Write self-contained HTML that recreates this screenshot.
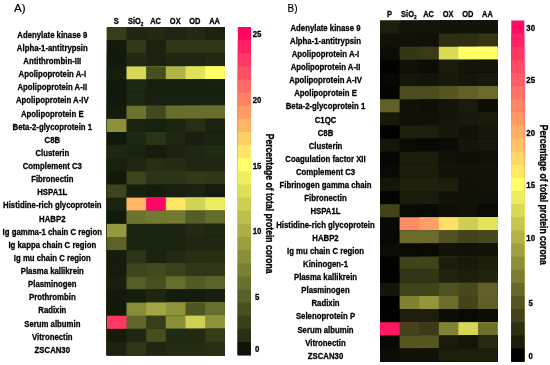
<!DOCTYPE html>
<html><head><meta charset="utf-8"><title>Protein corona heatmaps</title>
<style>
html,body{margin:0;padding:0;background:#fff;}
svg{display:block;font-family:"Liberation Sans",Arial,sans-serif;fill:#000;}
text.b{stroke:#000;stroke-width:0.3px;stroke-linejoin:round;}
text.t{stroke:#000;stroke-width:0.3px;}
</style></head><body>
<svg width="550" height="365" viewBox="0 0 550 365">
<rect width="550" height="365" fill="#ffffff"/>
<rect x="106.8" y="27" width="118.00000000000001" height="328.1" fill="#212b12"/>
<rect x="106.80" y="27.00" width="118.00" height="328.10" fill="#343e19"/>
<rect x="126.47" y="27.00" width="98.33" height="328.10" fill="#1d2711"/>
<rect x="146.13" y="27.00" width="78.67" height="328.10" fill="#212a12"/>
<rect x="165.80" y="27.00" width="59.00" height="328.10" fill="#1d2711"/>
<rect x="185.47" y="27.00" width="39.33" height="328.10" fill="#212a12"/>
<rect x="205.13" y="27.00" width="19.67" height="328.10" fill="#1a230f"/>
<text class="b" transform="translate(52.30,37.86) scale(0.82,1)" font-size="9.5" text-anchor="middle" font-weight="bold">Adenylate kinase 9</text>
<rect x="106.80" y="40.12" width="118.00" height="314.98" fill="#121a0c"/>
<rect x="126.47" y="40.12" width="98.33" height="314.98" fill="#303a18"/>
<rect x="146.13" y="40.12" width="78.67" height="314.98" fill="#1a230f"/>
<rect x="165.80" y="40.12" width="59.00" height="314.98" fill="#2e3717"/>
<rect x="185.47" y="40.12" width="39.33" height="314.98" fill="#2e3717"/>
<rect x="205.13" y="40.12" width="19.67" height="314.98" fill="#2e3717"/>
<text class="b" transform="translate(52.30,50.99) scale(0.82,1)" font-size="9.5" text-anchor="middle" font-weight="bold">Alpha-1-antitrypsin</text>
<rect x="106.80" y="53.25" width="118.00" height="301.85" fill="#121a0c"/>
<rect x="126.47" y="53.25" width="98.33" height="301.85" fill="#212a12"/>
<rect x="146.13" y="53.25" width="78.67" height="301.85" fill="#1a230f"/>
<rect x="165.80" y="53.25" width="59.00" height="301.85" fill="#1d2711"/>
<rect x="185.47" y="53.25" width="39.33" height="301.85" fill="#1d2711"/>
<rect x="205.13" y="53.25" width="19.67" height="301.85" fill="#212a12"/>
<text class="b" transform="translate(52.30,64.11) scale(0.82,1)" font-size="9.5" text-anchor="middle" font-weight="bold">Antithrombin-III</text>
<rect x="106.80" y="66.37" width="118.00" height="288.73" fill="#151e0d"/>
<rect x="126.47" y="66.37" width="98.33" height="288.73" fill="#d5d756"/>
<rect x="146.13" y="66.37" width="78.67" height="288.73" fill="#474f20"/>
<rect x="165.80" y="66.37" width="59.00" height="288.73" fill="#b0b448"/>
<rect x="185.47" y="66.37" width="39.33" height="288.73" fill="#e0e25a"/>
<rect x="205.13" y="66.37" width="19.67" height="288.73" fill="#ffff66"/>
<text class="b" transform="translate(52.30,77.23) scale(0.82,1)" font-size="9.5" text-anchor="middle" font-weight="bold">Apolipoprotein A-I</text>
<rect x="106.80" y="79.50" width="118.00" height="275.60" fill="#10190b"/>
<rect x="126.47" y="79.50" width="98.33" height="275.60" fill="#1d2711"/>
<rect x="146.13" y="79.50" width="78.67" height="275.60" fill="#17200e"/>
<rect x="165.80" y="79.50" width="59.00" height="275.60" fill="#17200e"/>
<rect x="185.47" y="79.50" width="39.33" height="275.60" fill="#17200e"/>
<rect x="205.13" y="79.50" width="19.67" height="275.60" fill="#17200e"/>
<text class="b" transform="translate(52.30,90.36) scale(0.82,1)" font-size="9.5" text-anchor="middle" font-weight="bold">Apolipoprotein A-II</text>
<rect x="106.80" y="92.62" width="118.00" height="262.48" fill="#10190b"/>
<rect x="126.47" y="92.62" width="98.33" height="262.48" fill="#1d2711"/>
<rect x="146.13" y="92.62" width="78.67" height="262.48" fill="#18210f"/>
<rect x="165.80" y="92.62" width="59.00" height="262.48" fill="#18210f"/>
<rect x="185.47" y="92.62" width="39.33" height="262.48" fill="#18210f"/>
<rect x="205.13" y="92.62" width="19.67" height="262.48" fill="#18210f"/>
<text class="b" transform="translate(52.30,103.48) scale(0.82,1)" font-size="9.5" text-anchor="middle" font-weight="bold">Apolipoprotein A-IV</text>
<rect x="106.80" y="105.74" width="118.00" height="249.36" fill="#141c0d"/>
<rect x="126.47" y="105.74" width="98.33" height="249.36" fill="#6c732e"/>
<rect x="146.13" y="105.74" width="78.67" height="249.36" fill="#41491e"/>
<rect x="165.80" y="105.74" width="59.00" height="249.36" fill="#686f2d"/>
<rect x="185.47" y="105.74" width="39.33" height="249.36" fill="#686f2d"/>
<rect x="205.13" y="105.74" width="19.67" height="249.36" fill="#686f2d"/>
<text class="b" transform="translate(52.30,116.61) scale(0.82,1)" font-size="9.5" text-anchor="middle" font-weight="bold">Apolipoprotein E</text>
<rect x="106.80" y="118.87" width="118.00" height="236.23" fill="#8c913a"/>
<rect x="126.47" y="118.87" width="98.33" height="236.23" fill="#1a230f"/>
<rect x="146.13" y="118.87" width="78.67" height="236.23" fill="#18210f"/>
<rect x="165.80" y="118.87" width="59.00" height="236.23" fill="#1c2510"/>
<rect x="185.47" y="118.87" width="39.33" height="236.23" fill="#262f14"/>
<rect x="205.13" y="118.87" width="19.67" height="236.23" fill="#1a230f"/>
<text class="b" transform="translate(52.30,129.73) scale(0.82,1)" font-size="9.5" text-anchor="middle" font-weight="bold">Beta-2-glycoprotein 1</text>
<rect x="106.80" y="131.99" width="118.00" height="223.11" fill="#10190b"/>
<rect x="126.47" y="131.99" width="98.33" height="223.11" fill="#1d2711"/>
<rect x="146.13" y="131.99" width="78.67" height="223.11" fill="#2a3416"/>
<rect x="165.80" y="131.99" width="59.00" height="223.11" fill="#1d2711"/>
<rect x="185.47" y="131.99" width="39.33" height="223.11" fill="#17200e"/>
<rect x="205.13" y="131.99" width="19.67" height="223.11" fill="#1a230f"/>
<text class="b" transform="translate(52.30,142.85) scale(0.82,1)" font-size="9.5" text-anchor="middle" font-weight="bold">C8B</text>
<rect x="106.80" y="145.12" width="118.00" height="209.98" fill="#1d2711"/>
<rect x="126.47" y="145.12" width="98.33" height="209.98" fill="#1a230f"/>
<rect x="146.13" y="145.12" width="78.67" height="209.98" fill="#151e0d"/>
<rect x="165.80" y="145.12" width="59.00" height="209.98" fill="#1a230f"/>
<rect x="185.47" y="145.12" width="39.33" height="209.98" fill="#1d2711"/>
<rect x="205.13" y="145.12" width="19.67" height="209.98" fill="#212a12"/>
<text class="b" transform="translate(52.30,155.98) scale(0.82,1)" font-size="9.5" text-anchor="middle" font-weight="bold">Clusterin</text>
<rect x="106.80" y="158.24" width="118.00" height="196.86" fill="#18210f"/>
<rect x="126.47" y="158.24" width="98.33" height="196.86" fill="#1d2711"/>
<rect x="146.13" y="158.24" width="78.67" height="196.86" fill="#262f14"/>
<rect x="165.80" y="158.24" width="59.00" height="196.86" fill="#222c12"/>
<rect x="185.47" y="158.24" width="39.33" height="196.86" fill="#1d2711"/>
<rect x="205.13" y="158.24" width="19.67" height="196.86" fill="#1d2711"/>
<text class="b" transform="translate(52.30,169.10) scale(0.82,1)" font-size="9.5" text-anchor="middle" font-weight="bold">Complement C3</text>
<rect x="106.80" y="171.36" width="118.00" height="183.74" fill="#121a0c"/>
<rect x="126.47" y="171.36" width="98.33" height="183.74" fill="#3d451d"/>
<rect x="146.13" y="171.36" width="78.67" height="183.74" fill="#2a3416"/>
<rect x="165.80" y="171.36" width="59.00" height="183.74" fill="#2a3416"/>
<rect x="185.47" y="171.36" width="39.33" height="183.74" fill="#303a18"/>
<rect x="205.13" y="171.36" width="19.67" height="183.74" fill="#2e3717"/>
<text class="b" transform="translate(52.30,182.23) scale(0.82,1)" font-size="9.5" text-anchor="middle" font-weight="bold">Fibronectin</text>
<rect x="106.80" y="184.49" width="118.00" height="170.61" fill="#3d451d"/>
<rect x="126.47" y="184.49" width="98.33" height="170.61" fill="#17200e"/>
<rect x="146.13" y="184.49" width="78.67" height="170.61" fill="#151e0d"/>
<rect x="165.80" y="184.49" width="59.00" height="170.61" fill="#18210f"/>
<rect x="185.47" y="184.49" width="39.33" height="170.61" fill="#1a230f"/>
<rect x="205.13" y="184.49" width="19.67" height="170.61" fill="#141c0d"/>
<text class="b" transform="translate(52.30,195.35) scale(0.82,1)" font-size="9.5" text-anchor="middle" font-weight="bold">HSPA1L</text>
<rect x="106.80" y="197.61" width="118.00" height="157.49" fill="#1a230f"/>
<rect x="126.47" y="197.61" width="98.33" height="157.49" fill="#ffb765"/>
<rect x="146.13" y="197.61" width="78.67" height="157.49" fill="#ff0664"/>
<rect x="165.80" y="197.61" width="59.00" height="157.49" fill="#ffe666"/>
<rect x="185.47" y="197.61" width="39.33" height="157.49" fill="#d0d354"/>
<rect x="205.13" y="197.61" width="19.67" height="157.49" fill="#ebec5e"/>
<text class="b" transform="translate(52.30,208.47) scale(0.82,1)" font-size="9.5" text-anchor="middle" font-weight="bold">Histidine-rich glycoprotein</text>
<rect x="106.80" y="210.74" width="118.00" height="144.36" fill="#121a0c"/>
<rect x="126.47" y="210.74" width="98.33" height="144.36" fill="#6c732e"/>
<rect x="146.13" y="210.74" width="78.67" height="144.36" fill="#737931"/>
<rect x="165.80" y="210.74" width="59.00" height="144.36" fill="#737931"/>
<rect x="185.47" y="210.74" width="39.33" height="144.36" fill="#555d26"/>
<rect x="205.13" y="210.74" width="19.67" height="144.36" fill="#656d2c"/>
<text class="b" transform="translate(52.30,221.60) scale(0.82,1)" font-size="9.5" text-anchor="middle" font-weight="bold">HABP2</text>
<rect x="106.80" y="223.86" width="118.00" height="131.24" fill="#94993e"/>
<rect x="126.47" y="223.86" width="98.33" height="131.24" fill="#1a230f"/>
<rect x="146.13" y="223.86" width="78.67" height="131.24" fill="#1a230f"/>
<rect x="165.80" y="223.86" width="59.00" height="131.24" fill="#1a230f"/>
<rect x="185.47" y="223.86" width="39.33" height="131.24" fill="#212a12"/>
<rect x="205.13" y="223.86" width="19.67" height="131.24" fill="#1d2711"/>
<text class="b" transform="translate(52.30,234.72) scale(0.82,1)" font-size="9.5" text-anchor="middle" font-weight="bold">Ig gamma-1 chain C region</text>
<rect x="106.80" y="236.98" width="118.00" height="118.12" fill="#5b6328"/>
<rect x="126.47" y="236.98" width="98.33" height="118.12" fill="#1a230f"/>
<rect x="146.13" y="236.98" width="78.67" height="118.12" fill="#1a230f"/>
<rect x="165.80" y="236.98" width="59.00" height="118.12" fill="#1a230f"/>
<rect x="185.47" y="236.98" width="39.33" height="118.12" fill="#1d2711"/>
<rect x="205.13" y="236.98" width="19.67" height="118.12" fill="#1d2711"/>
<text class="b" transform="translate(52.30,247.85) scale(0.82,1)" font-size="9.5" text-anchor="middle" font-weight="bold">Ig kappa chain C region</text>
<rect x="106.80" y="250.11" width="118.00" height="104.99" fill="#141c0d"/>
<rect x="126.47" y="250.11" width="98.33" height="104.99" fill="#2a3416"/>
<rect x="146.13" y="250.11" width="78.67" height="104.99" fill="#1a230f"/>
<rect x="165.80" y="250.11" width="59.00" height="104.99" fill="#212a12"/>
<rect x="185.47" y="250.11" width="39.33" height="104.99" fill="#262f14"/>
<rect x="205.13" y="250.11" width="19.67" height="104.99" fill="#262f14"/>
<text class="b" transform="translate(52.30,260.97) scale(0.82,1)" font-size="9.5" text-anchor="middle" font-weight="bold">Ig mu chain C region</text>
<rect x="106.80" y="263.23" width="118.00" height="91.87" fill="#141c0d"/>
<rect x="126.47" y="263.23" width="98.33" height="91.87" fill="#3d451d"/>
<rect x="146.13" y="263.23" width="78.67" height="91.87" fill="#41491e"/>
<rect x="165.80" y="263.23" width="59.00" height="91.87" fill="#39421b"/>
<rect x="185.47" y="263.23" width="39.33" height="91.87" fill="#2e3717"/>
<rect x="205.13" y="263.23" width="19.67" height="91.87" fill="#2e3717"/>
<text class="b" transform="translate(52.30,274.09) scale(0.82,1)" font-size="9.5" text-anchor="middle" font-weight="bold">Plasma kallikrein</text>
<rect x="106.80" y="276.36" width="118.00" height="78.74" fill="#17200e"/>
<rect x="126.47" y="276.36" width="98.33" height="78.74" fill="#555d26"/>
<rect x="146.13" y="276.36" width="78.67" height="78.74" fill="#474f20"/>
<rect x="165.80" y="276.36" width="59.00" height="78.74" fill="#656d2c"/>
<rect x="185.47" y="276.36" width="39.33" height="78.74" fill="#515924"/>
<rect x="205.13" y="276.36" width="19.67" height="78.74" fill="#5b6328"/>
<text class="b" transform="translate(52.30,287.22) scale(0.82,1)" font-size="9.5" text-anchor="middle" font-weight="bold">Plasminogen</text>
<rect x="106.80" y="289.48" width="118.00" height="65.62" fill="#121a0c"/>
<rect x="126.47" y="289.48" width="98.33" height="65.62" fill="#151e0d"/>
<rect x="146.13" y="289.48" width="78.67" height="65.62" fill="#1d2711"/>
<rect x="165.80" y="289.48" width="59.00" height="65.62" fill="#151e0d"/>
<rect x="185.47" y="289.48" width="39.33" height="65.62" fill="#141c0d"/>
<rect x="205.13" y="289.48" width="19.67" height="65.62" fill="#17200e"/>
<text class="b" transform="translate(52.30,300.34) scale(0.82,1)" font-size="9.5" text-anchor="middle" font-weight="bold">Prothrombin</text>
<rect x="106.80" y="302.60" width="118.00" height="52.50" fill="#121a0c"/>
<rect x="126.47" y="302.60" width="98.33" height="52.50" fill="#878c39"/>
<rect x="146.13" y="302.60" width="78.67" height="52.50" fill="#a3a743"/>
<rect x="165.80" y="302.60" width="59.00" height="52.50" fill="#8f943c"/>
<rect x="185.47" y="302.60" width="39.33" height="52.50" fill="#4d5523"/>
<rect x="205.13" y="302.60" width="19.67" height="52.50" fill="#686f2d"/>
<text class="b" transform="translate(52.30,313.47) scale(0.82,1)" font-size="9.5" text-anchor="middle" font-weight="bold">Radixin</text>
<rect x="106.80" y="315.73" width="118.00" height="39.37" fill="#ff3764"/>
<rect x="126.47" y="315.73" width="98.33" height="39.37" fill="#5f672a"/>
<rect x="146.13" y="315.73" width="78.67" height="39.37" fill="#363f1a"/>
<rect x="165.80" y="315.73" width="59.00" height="39.37" fill="#8a903a"/>
<rect x="185.47" y="315.73" width="39.33" height="39.37" fill="#cfd154"/>
<rect x="205.13" y="315.73" width="19.67" height="39.37" fill="#8d933b"/>
<text class="b" transform="translate(52.30,326.59) scale(0.82,1)" font-size="9.5" text-anchor="middle" font-weight="bold">Serum albumin</text>
<rect x="106.80" y="328.85" width="118.00" height="26.25" fill="#141c0d"/>
<rect x="126.47" y="328.85" width="98.33" height="26.25" fill="#1d2711"/>
<rect x="146.13" y="328.85" width="78.67" height="26.25" fill="#474f20"/>
<rect x="165.80" y="328.85" width="59.00" height="26.25" fill="#212a12"/>
<rect x="185.47" y="328.85" width="39.33" height="26.25" fill="#212a12"/>
<rect x="205.13" y="328.85" width="19.67" height="26.25" fill="#343e19"/>
<text class="b" transform="translate(52.30,339.71) scale(0.82,1)" font-size="9.5" text-anchor="middle" font-weight="bold">Vitronectin</text>
<rect x="106.80" y="341.98" width="118.00" height="13.12" fill="#1a230f"/>
<rect x="126.47" y="341.98" width="98.33" height="13.12" fill="#2e3717"/>
<rect x="146.13" y="341.98" width="78.67" height="13.12" fill="#1d2711"/>
<rect x="165.80" y="341.98" width="59.00" height="13.12" fill="#222c12"/>
<rect x="185.47" y="341.98" width="39.33" height="13.12" fill="#222c12"/>
<rect x="205.13" y="341.98" width="19.67" height="13.12" fill="#262f14"/>
<text class="b" transform="translate(52.30,352.84) scale(0.82,1)" font-size="9.5" text-anchor="middle" font-weight="bold">ZSCAN30</text>
<rect x="237.8" y="27.00" width="13.20" height="328.10" fill="#ff0664"/>
<rect x="237.8" y="40.12" width="13.20" height="314.98" fill="#ff1f64"/>
<rect x="237.8" y="53.25" width="13.20" height="301.85" fill="#ff3864"/>
<rect x="237.8" y="66.37" width="13.20" height="288.73" fill="#ff5165"/>
<rect x="237.8" y="79.50" width="13.20" height="275.60" fill="#ff6a65"/>
<rect x="237.8" y="92.62" width="13.20" height="262.48" fill="#ff8265"/>
<rect x="237.8" y="105.74" width="13.20" height="249.36" fill="#ff9b65"/>
<rect x="237.8" y="118.87" width="13.20" height="236.23" fill="#ffb465"/>
<rect x="237.8" y="131.99" width="13.20" height="223.11" fill="#ffcd66"/>
<rect x="237.8" y="145.12" width="13.20" height="209.98" fill="#ffe666"/>
<rect x="237.8" y="158.24" width="13.20" height="196.86" fill="#ffff66"/>
<rect x="237.8" y="171.36" width="13.20" height="183.74" fill="#eeef60"/>
<rect x="237.8" y="184.49" width="13.20" height="170.61" fill="#dedf59"/>
<rect x="237.8" y="197.61" width="13.20" height="157.49" fill="#cdcf53"/>
<rect x="237.8" y="210.74" width="13.20" height="144.36" fill="#bcbf4d"/>
<rect x="237.8" y="223.86" width="13.20" height="131.24" fill="#acaf46"/>
<rect x="237.8" y="236.98" width="13.20" height="118.12" fill="#9b9f40"/>
<rect x="237.8" y="250.11" width="13.20" height="104.99" fill="#8a903a"/>
<rect x="237.8" y="263.23" width="13.20" height="91.87" fill="#798034"/>
<rect x="237.8" y="276.36" width="13.20" height="78.74" fill="#69702d"/>
<rect x="237.8" y="289.48" width="13.20" height="65.62" fill="#586027"/>
<rect x="237.8" y="302.60" width="13.20" height="52.50" fill="#475021"/>
<rect x="237.8" y="315.73" width="13.20" height="39.37" fill="#37401a"/>
<rect x="237.8" y="328.85" width="13.20" height="26.25" fill="#263014"/>
<rect x="237.8" y="341.98" width="13.20" height="13.12" fill="#0d150a"/>
<text class="b" transform="translate(116.23,23.90) scale(0.83,1)" font-size="9" text-anchor="middle" font-weight="bold">S</text>
<text class="b" transform="translate(135.70,23.9) scale(0.83,1)" font-size="9" text-anchor="middle" font-weight="bold">SiO<tspan font-size="5.6" dy="2">2</tspan></text>
<text class="b" transform="translate(155.57,23.90) scale(0.83,1)" font-size="9" text-anchor="middle" font-weight="bold">AC</text>
<text class="b" transform="translate(175.23,23.90) scale(0.83,1)" font-size="9" text-anchor="middle" font-weight="bold">OX</text>
<text class="b" transform="translate(194.90,23.90) scale(0.83,1)" font-size="9" text-anchor="middle" font-weight="bold">OD</text>
<text class="b" transform="translate(214.57,23.90) scale(0.83,1)" font-size="9" text-anchor="middle" font-weight="bold">AA</text>
<text class="t" transform="translate(257.10,37.45) scale(0.87,1)" font-size="9" text-anchor="middle" font-weight="bold">25</text>
<text class="t" transform="translate(257.10,102.80) scale(0.87,1)" font-size="9" text-anchor="middle" font-weight="bold">20</text>
<text class="t" transform="translate(257.10,168.55) scale(0.87,1)" font-size="9" text-anchor="middle" font-weight="bold">15</text>
<text class="t" transform="translate(257.10,233.65) scale(0.87,1)" font-size="9" text-anchor="middle" font-weight="bold">10</text>
<text class="t" transform="translate(257.10,299.55) scale(0.87,1)" font-size="9" text-anchor="middle" font-weight="bold">5</text>
<text class="t" transform="translate(257.10,351.80) scale(0.87,1)" font-size="9" text-anchor="middle" font-weight="bold">0</text>
<text class="b" transform="translate(266.10,133.70) rotate(90) scale(0.828,1)" font-size="10.4" text-anchor="start" font-weight="bold">Percentage of total protein corona</text>
<text transform="translate(14,11.8) scale(1.05,1)" font-size="11" font-weight="normal" stroke="#000" stroke-width="0.2">A)</text>
<rect x="380" y="20.5" width="117.60000000000002" height="341.1" fill="#16160a"/>
<rect x="380.00" y="20.50" width="117.60" height="341.10" fill="#1e1e0d"/>
<rect x="399.60" y="20.50" width="98.00" height="341.10" fill="#151509"/>
<rect x="419.20" y="20.50" width="78.40" height="341.10" fill="#151509"/>
<rect x="438.80" y="20.50" width="58.80" height="341.10" fill="#131308"/>
<rect x="458.40" y="20.50" width="39.20" height="341.10" fill="#131308"/>
<rect x="478.00" y="20.50" width="19.60" height="341.10" fill="#131308"/>
<text class="b" transform="translate(325.50,30.76) scale(0.82,1)" font-size="9.5" text-anchor="middle" font-weight="bold">Adenylate kinase 9</text>
<rect x="380.00" y="33.62" width="117.60" height="327.98" fill="#111107"/>
<rect x="399.60" y="33.62" width="98.00" height="327.98" fill="#111107"/>
<rect x="419.20" y="33.62" width="78.40" height="327.98" fill="#111107"/>
<rect x="438.80" y="33.62" width="58.80" height="327.98" fill="#2f2f14"/>
<rect x="458.40" y="33.62" width="39.20" height="327.98" fill="#2f2f14"/>
<rect x="478.00" y="33.62" width="19.60" height="327.98" fill="#353516"/>
<text class="b" transform="translate(325.50,43.88) scale(0.82,1)" font-size="9.5" text-anchor="middle" font-weight="bold">Alpha-1-antitrypsin</text>
<rect x="380.00" y="46.74" width="117.60" height="314.86" fill="#0d0d05"/>
<rect x="399.60" y="46.74" width="98.00" height="314.86" fill="#363616"/>
<rect x="419.20" y="46.74" width="78.40" height="314.86" fill="#3a3a18"/>
<rect x="438.80" y="46.74" width="58.80" height="314.86" fill="#dada57"/>
<rect x="458.40" y="46.74" width="39.20" height="314.86" fill="#ffff66"/>
<rect x="478.00" y="46.74" width="19.60" height="314.86" fill="#ffff66"/>
<text class="b" transform="translate(325.50,57.00) scale(0.82,1)" font-size="9.5" text-anchor="middle" font-weight="bold">Apolipoprotein A-I</text>
<rect x="380.00" y="59.86" width="117.60" height="301.74" fill="#020201"/>
<rect x="399.60" y="59.86" width="98.00" height="301.74" fill="#111107"/>
<rect x="419.20" y="59.86" width="78.40" height="301.74" fill="#0d0d05"/>
<rect x="438.80" y="59.86" width="58.80" height="301.74" fill="#1b1b0c"/>
<rect x="458.40" y="59.86" width="39.20" height="301.74" fill="#151509"/>
<rect x="478.00" y="59.86" width="19.60" height="301.74" fill="#151509"/>
<text class="b" transform="translate(325.50,70.12) scale(0.82,1)" font-size="9.5" text-anchor="middle" font-weight="bold">Apolipoprotein A-II</text>
<rect x="380.00" y="72.98" width="117.60" height="288.62" fill="#060603"/>
<rect x="399.60" y="72.98" width="98.00" height="288.62" fill="#151509"/>
<rect x="419.20" y="72.98" width="78.40" height="288.62" fill="#131308"/>
<rect x="438.80" y="72.98" width="58.80" height="288.62" fill="#19190b"/>
<rect x="458.40" y="72.98" width="39.20" height="288.62" fill="#151509"/>
<rect x="478.00" y="72.98" width="19.60" height="288.62" fill="#19190b"/>
<text class="b" transform="translate(325.50,83.24) scale(0.82,1)" font-size="9.5" text-anchor="middle" font-weight="bold">Apolipoprotein A-IV</text>
<rect x="380.00" y="86.10" width="117.60" height="275.50" fill="#040402"/>
<rect x="399.60" y="86.10" width="98.00" height="275.50" fill="#4c4c1f"/>
<rect x="419.20" y="86.10" width="78.40" height="275.50" fill="#4c4c1f"/>
<rect x="438.80" y="86.10" width="58.80" height="275.50" fill="#565623"/>
<rect x="458.40" y="86.10" width="39.20" height="275.50" fill="#606027"/>
<rect x="478.00" y="86.10" width="19.60" height="275.50" fill="#6a6a2b"/>
<text class="b" transform="translate(325.50,96.36) scale(0.82,1)" font-size="9.5" text-anchor="middle" font-weight="bold">Apolipoprotein E</text>
<rect x="380.00" y="99.22" width="117.60" height="262.38" fill="#606027"/>
<rect x="399.60" y="99.22" width="98.00" height="262.38" fill="#111107"/>
<rect x="419.20" y="99.22" width="78.40" height="262.38" fill="#0f0f06"/>
<rect x="438.80" y="99.22" width="58.80" height="262.38" fill="#151509"/>
<rect x="458.40" y="99.22" width="39.20" height="262.38" fill="#1b1b0c"/>
<rect x="478.00" y="99.22" width="19.60" height="262.38" fill="#0d0d05"/>
<text class="b" transform="translate(325.50,109.48) scale(0.82,1)" font-size="9.5" text-anchor="middle" font-weight="bold">Beta-2-glycoprotein 1</text>
<rect x="380.00" y="112.33" width="117.60" height="249.27" fill="#19190b"/>
<rect x="399.60" y="112.33" width="98.00" height="249.27" fill="#111107"/>
<rect x="419.20" y="112.33" width="78.40" height="249.27" fill="#111107"/>
<rect x="438.80" y="112.33" width="58.80" height="249.27" fill="#151509"/>
<rect x="458.40" y="112.33" width="39.20" height="249.27" fill="#19190b"/>
<rect x="478.00" y="112.33" width="19.60" height="249.27" fill="#1b1b0c"/>
<text class="b" transform="translate(325.50,122.59) scale(0.82,1)" font-size="9.5" text-anchor="middle" font-weight="bold">C1QC</text>
<rect x="380.00" y="125.45" width="117.60" height="236.15" fill="#020201"/>
<rect x="399.60" y="125.45" width="98.00" height="236.15" fill="#1e1e0d"/>
<rect x="419.20" y="125.45" width="78.40" height="236.15" fill="#1e1e0d"/>
<rect x="438.80" y="125.45" width="58.80" height="236.15" fill="#17170a"/>
<rect x="458.40" y="125.45" width="39.20" height="236.15" fill="#111107"/>
<rect x="478.00" y="125.45" width="19.60" height="236.15" fill="#17170a"/>
<text class="b" transform="translate(325.50,135.71) scale(0.82,1)" font-size="9.5" text-anchor="middle" font-weight="bold">C8B</text>
<rect x="380.00" y="138.57" width="117.60" height="223.03" fill="#151509"/>
<rect x="399.60" y="138.57" width="98.00" height="223.03" fill="#0a0a04"/>
<rect x="419.20" y="138.57" width="78.40" height="223.03" fill="#080804"/>
<rect x="438.80" y="138.57" width="58.80" height="223.03" fill="#0d0d05"/>
<rect x="458.40" y="138.57" width="39.20" height="223.03" fill="#151509"/>
<rect x="478.00" y="138.57" width="19.60" height="223.03" fill="#17170a"/>
<text class="b" transform="translate(325.50,148.83) scale(0.82,1)" font-size="9.5" text-anchor="middle" font-weight="bold">Clusterin</text>
<rect x="380.00" y="151.69" width="117.60" height="209.91" fill="#060603"/>
<rect x="399.60" y="151.69" width="98.00" height="209.91" fill="#1d1d0c"/>
<rect x="419.20" y="151.69" width="78.40" height="209.91" fill="#1d1d0c"/>
<rect x="438.80" y="151.69" width="58.80" height="209.91" fill="#111107"/>
<rect x="458.40" y="151.69" width="39.20" height="209.91" fill="#0f0f06"/>
<rect x="478.00" y="151.69" width="19.60" height="209.91" fill="#111107"/>
<text class="b" transform="translate(325.50,161.95) scale(0.82,1)" font-size="9.5" text-anchor="middle" font-weight="bold">Coagulation factor XII</text>
<rect x="380.00" y="164.81" width="117.60" height="196.79" fill="#0a0a04"/>
<rect x="399.60" y="164.81" width="98.00" height="196.79" fill="#1d1d0c"/>
<rect x="419.20" y="164.81" width="78.40" height="196.79" fill="#1d1d0c"/>
<rect x="438.80" y="164.81" width="58.80" height="196.79" fill="#131308"/>
<rect x="458.40" y="164.81" width="39.20" height="196.79" fill="#131308"/>
<rect x="478.00" y="164.81" width="19.60" height="196.79" fill="#131308"/>
<text class="b" transform="translate(325.50,175.07) scale(0.82,1)" font-size="9.5" text-anchor="middle" font-weight="bold">Complement C3</text>
<rect x="380.00" y="177.93" width="117.60" height="183.67" fill="#151509"/>
<rect x="399.60" y="177.93" width="98.00" height="183.67" fill="#20200e"/>
<rect x="419.20" y="177.93" width="78.40" height="183.67" fill="#20200e"/>
<rect x="438.80" y="177.93" width="58.80" height="183.67" fill="#1e1e0d"/>
<rect x="458.40" y="177.93" width="39.20" height="183.67" fill="#111107"/>
<rect x="478.00" y="177.93" width="19.60" height="183.67" fill="#131308"/>
<text class="b" transform="translate(325.50,188.19) scale(0.82,1)" font-size="9.5" text-anchor="middle" font-weight="bold">Fibrinogen gamma chain</text>
<rect x="380.00" y="191.05" width="117.60" height="170.55" fill="#040402"/>
<rect x="399.60" y="191.05" width="98.00" height="170.55" fill="#1b1b0c"/>
<rect x="419.20" y="191.05" width="78.40" height="170.55" fill="#1b1b0c"/>
<rect x="438.80" y="191.05" width="58.80" height="170.55" fill="#111107"/>
<rect x="458.40" y="191.05" width="39.20" height="170.55" fill="#111107"/>
<rect x="478.00" y="191.05" width="19.60" height="170.55" fill="#111107"/>
<text class="b" transform="translate(325.50,201.31) scale(0.82,1)" font-size="9.5" text-anchor="middle" font-weight="bold">Fibronectin</text>
<rect x="380.00" y="204.17" width="117.60" height="157.43" fill="#42421b"/>
<rect x="399.60" y="204.17" width="98.00" height="157.43" fill="#0a0a04"/>
<rect x="419.20" y="204.17" width="78.40" height="157.43" fill="#0a0a04"/>
<rect x="438.80" y="204.17" width="58.80" height="157.43" fill="#0f0f06"/>
<rect x="458.40" y="204.17" width="39.20" height="157.43" fill="#111107"/>
<rect x="478.00" y="204.17" width="19.60" height="157.43" fill="#0a0a04"/>
<text class="b" transform="translate(325.50,214.43) scale(0.82,1)" font-size="9.5" text-anchor="middle" font-weight="bold">HSPA1L</text>
<rect x="380.00" y="217.29" width="117.60" height="144.31" fill="#080804"/>
<rect x="399.60" y="217.29" width="98.00" height="144.31" fill="#ff8c65"/>
<rect x="419.20" y="217.29" width="78.40" height="144.31" fill="#ffa065"/>
<rect x="438.80" y="217.29" width="58.80" height="144.31" fill="#ffdf66"/>
<rect x="458.40" y="217.29" width="39.20" height="144.31" fill="#cece52"/>
<rect x="478.00" y="217.29" width="19.60" height="144.31" fill="#e5e55c"/>
<text class="b" transform="translate(325.50,227.55) scale(0.82,1)" font-size="9.5" text-anchor="middle" font-weight="bold">Histidine-rich glycoprotein</text>
<rect x="380.00" y="230.41" width="117.60" height="131.19" fill="#080804"/>
<rect x="399.60" y="230.41" width="98.00" height="131.19" fill="#6a6a2b"/>
<rect x="419.20" y="230.41" width="78.40" height="131.19" fill="#6a6a2b"/>
<rect x="438.80" y="230.41" width="58.80" height="131.19" fill="#505021"/>
<rect x="458.40" y="230.41" width="39.20" height="131.19" fill="#42421b"/>
<rect x="478.00" y="230.41" width="19.60" height="131.19" fill="#48481e"/>
<text class="b" transform="translate(325.50,240.67) scale(0.82,1)" font-size="9.5" text-anchor="middle" font-weight="bold">HABP2</text>
<rect x="380.00" y="243.53" width="117.60" height="118.07" fill="#0d0d05"/>
<rect x="399.60" y="243.53" width="98.00" height="118.07" fill="#0a0a04"/>
<rect x="419.20" y="243.53" width="78.40" height="118.07" fill="#0a0a04"/>
<rect x="438.80" y="243.53" width="58.80" height="118.07" fill="#131308"/>
<rect x="458.40" y="243.53" width="39.20" height="118.07" fill="#111107"/>
<rect x="478.00" y="243.53" width="19.60" height="118.07" fill="#131308"/>
<text class="b" transform="translate(325.50,253.79) scale(0.82,1)" font-size="9.5" text-anchor="middle" font-weight="bold">Ig mu chain C region</text>
<rect x="380.00" y="256.65" width="117.60" height="104.95" fill="#020201"/>
<rect x="399.60" y="256.65" width="98.00" height="104.95" fill="#42421b"/>
<rect x="419.20" y="256.65" width="78.40" height="104.95" fill="#42421b"/>
<rect x="438.80" y="256.65" width="58.80" height="104.95" fill="#1d1d0c"/>
<rect x="458.40" y="256.65" width="39.20" height="104.95" fill="#19190b"/>
<rect x="478.00" y="256.65" width="19.60" height="104.95" fill="#1d1d0c"/>
<text class="b" transform="translate(325.50,266.91) scale(0.82,1)" font-size="9.5" text-anchor="middle" font-weight="bold">Kininogen-1</text>
<rect x="380.00" y="269.77" width="117.60" height="91.83" fill="#020201"/>
<rect x="399.60" y="269.77" width="98.00" height="91.83" fill="#353516"/>
<rect x="419.20" y="269.77" width="78.40" height="91.83" fill="#353516"/>
<rect x="438.80" y="269.77" width="58.80" height="91.83" fill="#23230f"/>
<rect x="458.40" y="269.77" width="39.20" height="91.83" fill="#1e1e0d"/>
<rect x="478.00" y="269.77" width="19.60" height="91.83" fill="#23230f"/>
<text class="b" transform="translate(325.50,280.03) scale(0.82,1)" font-size="9.5" text-anchor="middle" font-weight="bold">Plasma kallikrein</text>
<rect x="380.00" y="282.88" width="117.60" height="78.72" fill="#151509"/>
<rect x="399.60" y="282.88" width="98.00" height="78.72" fill="#42421b"/>
<rect x="419.20" y="282.88" width="78.40" height="78.72" fill="#42421b"/>
<rect x="438.80" y="282.88" width="58.80" height="78.72" fill="#505021"/>
<rect x="458.40" y="282.88" width="39.20" height="78.72" fill="#48481e"/>
<rect x="478.00" y="282.88" width="19.60" height="78.72" fill="#606027"/>
<text class="b" transform="translate(325.50,293.14) scale(0.82,1)" font-size="9.5" text-anchor="middle" font-weight="bold">Plasminogen</text>
<rect x="380.00" y="296.00" width="117.60" height="65.60" fill="#000000"/>
<rect x="399.60" y="296.00" width="98.00" height="65.60" fill="#808034"/>
<rect x="419.20" y="296.00" width="78.40" height="65.60" fill="#95953c"/>
<rect x="438.80" y="296.00" width="58.80" height="65.60" fill="#6c6c2c"/>
<rect x="458.40" y="296.00" width="39.20" height="65.60" fill="#44441c"/>
<rect x="478.00" y="296.00" width="19.60" height="65.60" fill="#5e5e26"/>
<text class="b" transform="translate(325.50,306.26) scale(0.82,1)" font-size="9.5" text-anchor="middle" font-weight="bold">Radixin</text>
<rect x="380.00" y="309.12" width="117.60" height="52.48" fill="#020201"/>
<rect x="399.60" y="309.12" width="98.00" height="52.48" fill="#1e1e0d"/>
<rect x="419.20" y="309.12" width="78.40" height="52.48" fill="#1e1e0d"/>
<rect x="438.80" y="309.12" width="58.80" height="52.48" fill="#0d0d05"/>
<rect x="458.40" y="309.12" width="39.20" height="52.48" fill="#0a0a04"/>
<rect x="478.00" y="309.12" width="19.60" height="52.48" fill="#0d0d05"/>
<text class="b" transform="translate(325.50,319.38) scale(0.82,1)" font-size="9.5" text-anchor="middle" font-weight="bold">Selenoprotein P</text>
<rect x="380.00" y="322.24" width="117.60" height="39.36" fill="#ff1764"/>
<rect x="399.60" y="322.24" width="98.00" height="39.36" fill="#42421b"/>
<rect x="419.20" y="322.24" width="78.40" height="39.36" fill="#3a3a18"/>
<rect x="438.80" y="322.24" width="58.80" height="39.36" fill="#828235"/>
<rect x="458.40" y="322.24" width="39.20" height="39.36" fill="#d6d656"/>
<rect x="478.00" y="322.24" width="19.60" height="39.36" fill="#70702d"/>
<text class="b" transform="translate(325.50,332.50) scale(0.82,1)" font-size="9.5" text-anchor="middle" font-weight="bold">Serum albumin</text>
<rect x="380.00" y="335.36" width="117.60" height="26.24" fill="#080804"/>
<rect x="399.60" y="335.36" width="98.00" height="26.24" fill="#565623"/>
<rect x="419.20" y="335.36" width="78.40" height="26.24" fill="#565623"/>
<rect x="438.80" y="335.36" width="58.80" height="26.24" fill="#1b1b0c"/>
<rect x="458.40" y="335.36" width="39.20" height="26.24" fill="#151509"/>
<rect x="478.00" y="335.36" width="19.60" height="26.24" fill="#292911"/>
<text class="b" transform="translate(325.50,345.62) scale(0.82,1)" font-size="9.5" text-anchor="middle" font-weight="bold">Vitronectin</text>
<rect x="380.00" y="348.48" width="117.60" height="13.12" fill="#0d0d05"/>
<rect x="399.60" y="348.48" width="98.00" height="13.12" fill="#111107"/>
<rect x="419.20" y="348.48" width="78.40" height="13.12" fill="#111107"/>
<rect x="438.80" y="348.48" width="58.80" height="13.12" fill="#1e1e0d"/>
<rect x="458.40" y="348.48" width="39.20" height="13.12" fill="#1e1e0d"/>
<rect x="478.00" y="348.48" width="19.60" height="13.12" fill="#1e1e0d"/>
<text class="b" transform="translate(325.50,358.74) scale(0.82,1)" font-size="9.5" text-anchor="middle" font-weight="bold">ZSCAN30</text>
<rect x="511.3" y="20.50" width="13.00" height="341.10" fill="#ff0d64"/>
<rect x="511.3" y="33.62" width="13.00" height="327.98" fill="#ff2164"/>
<rect x="511.3" y="46.74" width="13.00" height="314.86" fill="#ff3564"/>
<rect x="511.3" y="59.86" width="13.00" height="301.74" fill="#ff4a64"/>
<rect x="511.3" y="72.98" width="13.00" height="288.62" fill="#ff5e65"/>
<rect x="511.3" y="86.10" width="13.00" height="275.50" fill="#ff7265"/>
<rect x="511.3" y="99.22" width="13.00" height="262.38" fill="#ff8665"/>
<rect x="511.3" y="112.33" width="13.00" height="249.27" fill="#ff9a65"/>
<rect x="511.3" y="125.45" width="13.00" height="236.15" fill="#ffae65"/>
<rect x="511.3" y="138.57" width="13.00" height="223.03" fill="#ffc266"/>
<rect x="511.3" y="151.69" width="13.00" height="209.91" fill="#ffd766"/>
<rect x="511.3" y="164.81" width="13.00" height="196.79" fill="#ffeb66"/>
<rect x="511.3" y="177.93" width="13.00" height="183.67" fill="#ffff66"/>
<rect x="511.3" y="191.05" width="13.00" height="170.55" fill="#ecec5e"/>
<rect x="511.3" y="204.17" width="13.00" height="157.43" fill="#d9d957"/>
<rect x="511.3" y="217.29" width="13.00" height="144.31" fill="#c6c650"/>
<rect x="511.3" y="230.41" width="13.00" height="131.19" fill="#b3b348"/>
<rect x="511.3" y="243.53" width="13.00" height="118.07" fill="#a0a040"/>
<rect x="511.3" y="256.65" width="13.00" height="104.95" fill="#8e8e39"/>
<rect x="511.3" y="269.77" width="13.00" height="91.83" fill="#7b7b32"/>
<rect x="511.3" y="282.88" width="13.00" height="78.72" fill="#68682a"/>
<rect x="511.3" y="296.00" width="13.00" height="65.60" fill="#555522"/>
<rect x="511.3" y="309.12" width="13.00" height="52.48" fill="#42421b"/>
<rect x="511.3" y="322.24" width="13.00" height="39.36" fill="#2f2f14"/>
<rect x="511.3" y="335.36" width="13.00" height="26.24" fill="#1c1c0c"/>
<rect x="511.3" y="348.48" width="13.00" height="13.12" fill="#000000"/>
<text class="b" transform="translate(389.40,17.40) scale(0.83,1)" font-size="9" text-anchor="middle" font-weight="bold">P</text>
<text class="b" transform="translate(408.80,17.4) scale(0.83,1)" font-size="9" text-anchor="middle" font-weight="bold">SiO<tspan font-size="5.6" dy="2">2</tspan></text>
<text class="b" transform="translate(428.60,17.40) scale(0.83,1)" font-size="9" text-anchor="middle" font-weight="bold">AC</text>
<text class="b" transform="translate(448.20,17.40) scale(0.83,1)" font-size="9" text-anchor="middle" font-weight="bold">OX</text>
<text class="b" transform="translate(467.80,17.40) scale(0.83,1)" font-size="9" text-anchor="middle" font-weight="bold">OD</text>
<text class="b" transform="translate(487.40,17.40) scale(0.83,1)" font-size="9" text-anchor="middle" font-weight="bold">AA</text>
<text class="t" transform="translate(530.70,30.60) scale(0.87,1)" font-size="9" text-anchor="middle" font-weight="bold">30</text>
<text class="t" transform="translate(530.70,82.70) scale(0.87,1)" font-size="9" text-anchor="middle" font-weight="bold">25</text>
<text class="t" transform="translate(530.70,135.55) scale(0.87,1)" font-size="9" text-anchor="middle" font-weight="bold">20</text>
<text class="t" transform="translate(530.70,187.80) scale(0.87,1)" font-size="9" text-anchor="middle" font-weight="bold">15</text>
<text class="t" transform="translate(530.70,240.70) scale(0.87,1)" font-size="9" text-anchor="middle" font-weight="bold">10</text>
<text class="t" transform="translate(530.70,306.45) scale(0.87,1)" font-size="9" text-anchor="middle" font-weight="bold">5</text>
<text class="t" transform="translate(530.70,358.60) scale(0.87,1)" font-size="9" text-anchor="middle" font-weight="bold">0</text>
<text class="b" transform="translate(539.85,124.80) rotate(90) scale(0.828,1)" font-size="10.4" text-anchor="start" font-weight="bold">Percentage of total protein corona</text>
<text transform="translate(287.6,11.5) scale(0.86,1)" font-size="11.6" font-weight="normal" stroke="#000" stroke-width="0.2">B)</text>
</svg>
</body></html>
